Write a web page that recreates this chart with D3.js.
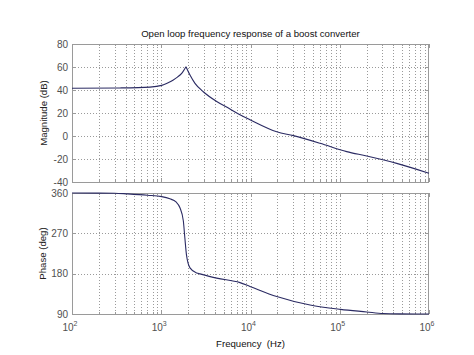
<!DOCTYPE html>
<html>
<head>
<meta charset="utf-8">
<script src="https://cdn.jsdelivr.net/npm/d3@7"></script>
<style>
  html, body { margin: 0; padding: 0; background: #fff; }
  text { font-family: "Liberation Sans", Arial, sans-serif; }
</style>
</head>
<body>
<svg id="chart" width="474" height="355"></svg>
<script>
// ---- data ----
const title = "Open loop frequency response of a boost converter";
const xLabel = "Frequency  (Hz)";
const magLabel = "Magnitude (dB)";
const phaseLabel = "Phase (deg)";

// magnitude: rising branch up to the resonance peak, then falling branch
const magFreqRise = [100, 345, 748, 1012, 1191, 1365, 1530, 1694, 1892];
const magDbRise   = [41.5, 41.8, 42.5, 44.0, 46.3, 48.7, 51.4, 54.5, 60.3];
const magFreqFall = [1892, 2099, 2388, 2958, 4180, 5890, 7620, 9860, 19680, 30200, 60100, 119700, 200400, 434500, 1000000];
const magDbFall   = [60.3, 53.0, 45.8, 38.5, 30.0, 23.5, 18.5, 14.2, 3.7, 0.3, -6.3, -13.6, -17.4, -23.8, -32.4];

const phFreq = [100, 300, 420, 700, 1012, 1250, 1463, 1620, 1767, 1838, 1917, 2099, 2497, 2716, 4180, 7620, 9860, 19680, 46500, 102000, 200400, 307000, 471000, 1000000];
const phDeg  = [360, 359.6, 358, 355, 352, 347, 340, 327, 298, 260, 222, 193, 181.5, 179.5, 170, 160, 151.5, 129, 110, 100.4, 94.6, 91, 90.3, 90];

const xTickExp = [2, 3, 4, 5, 6];
const magTicks = [-40, -20, 0, 20, 40, 60, 80];
const phTicks = [90, 180, 270, 360];

// ---- layout ----
const svg = d3.select("#chart");
const left = 72, right = 429;
const x = d3.scaleLog().domain([1e2, 1e6]).range([left, right]);
const yMag = d3.scaleLinear().domain([-40, 80]).range([182, 44]);
const yPh = d3.scaleLinear().domain([90, 360]).range([314, 193]);

const gridColor = "#9a9a9a";
const frameColor = "#9a9a9a";
const textColor = "#505050";
const lineColor = "#2b2b63";
const tickFont = 10;
const labelFont = 9.6;

// minor/major grid frequencies
const gridFreqs = [];
for (let e = 2; e < 6; e++) for (let m = 1; m <= 9; m++) gridFreqs.push(m * Math.pow(10, e));
gridFreqs.push(1e6);

function panel(yScale, ticks, label, labelX, labelY) {
  const [yb, yt] = yScale.range();
  const g = svg.append("g");
  g.append("rect").attr("x", left).attr("y", yt).attr("width", right - left).attr("height", yb - yt).attr("fill", "#fff");
  // vertical grid
  g.selectAll(".vg").data(gridFreqs.filter(f => f > 100 && f < 1e6)).enter().append("line")
    .attr("x1", d => Math.round(x(d)) + 0.5).attr("x2", d => Math.round(x(d)) + 0.5)
    .attr("y1", yt).attr("y2", yb)
    .attr("stroke", gridColor).attr("stroke-width", 1).attr("stroke-dasharray", "1,2");
  // horizontal grid
  g.selectAll(".hg").data(ticks.slice(1, -1)).enter().append("line")
    .attr("x1", left).attr("x2", right)
    .attr("y1", d => Math.round(yScale(d)) + 0.5).attr("y2", d => Math.round(yScale(d)) + 0.5)
    .attr("stroke", gridColor).attr("stroke-width", 1).attr("stroke-dasharray", "1,2");
  // ticks inward (x)
  g.selectAll(".xt").data(gridFreqs).enter().append("g").each(function(d) {
    const len = (Math.abs(Math.log10(d) - Math.round(Math.log10(d))) < 1e-9) ? 4 : 2;
    const xx = Math.round(x(d)) + 0.5;
    d3.select(this).append("line").attr("x1", xx).attr("x2", xx).attr("y1", yb).attr("y2", yb - len).attr("stroke", frameColor);
    d3.select(this).append("line").attr("x1", xx).attr("x2", xx).attr("y1", yt).attr("y2", yt + len).attr("stroke", frameColor);
  });
  // ticks inward (y)
  g.selectAll(".yt").data(ticks).enter().append("g").each(function(d) {
    const yy = Math.round(yScale(d)) + 0.5;
    d3.select(this).append("line").attr("x1", left).attr("x2", left + 4).attr("y1", yy).attr("y2", yy).attr("stroke", frameColor);
    d3.select(this).append("line").attr("x1", right).attr("x2", right - 4).attr("y1", yy).attr("y2", yy).attr("stroke", frameColor);
  });
  // frame
  g.append("rect").attr("x", left + 0.5).attr("y", Math.round(yt) + 0.5)
    .attr("width", right - left - 1).attr("height", Math.round(yb) - Math.round(yt))
    .attr("fill", "none").attr("stroke", frameColor).attr("stroke-width", 1);
  // y tick labels
  g.selectAll(".yl").data(ticks).enter().append("text")
    .attr("x", 68).attr("y", d => yScale(d)).attr("dy", "0.35em")
    .attr("text-anchor", "end").attr("font-size", tickFont).attr("fill", textColor)
    .text(d => d);
  // y label
  g.append("text")
    .attr("transform", `translate(${labelX},${labelY}) rotate(-90)`)
    .attr("text-anchor", "middle").attr("font-size", labelFont).attr("fill", "#222")
    .text(label);
  return g;
}

panel(yMag, magTicks, magLabel, 47, 113);
panel(yPh, phTicks, phaseLabel, 46, 253.5);

// x tick labels (10^n)
const xl = svg.selectAll(".xl").data(xTickExp).enter().append("text")
  .attr("x", d => x(Math.pow(10, d)) - 2).attr("y", 331)
  .attr("text-anchor", "middle").attr("font-size", tickFont).attr("fill", textColor);
xl.append("tspan").text("10");
xl.append("tspan").attr("dy", -5).attr("font-size", 7).text(d => d);

// title
svg.append("text").attr("x", (left + right) / 2).attr("y", 37)
  .attr("text-anchor", "middle").attr("font-size", labelFont).attr("fill", "#111")
  .text(title);

// x label
svg.append("text").attr("x", (left + right) / 2).attr("y", 347)
  .attr("text-anchor", "middle").attr("font-size", labelFont).attr("fill", "#111")
  .style("white-space", "pre")
  .text(xLabel);

// curves
const magLine = d3.line().x(d => x(d[0])).y(d => yMag(d[1])).curve(d3.curveMonotoneX);
[[magFreqRise, magDbRise], [magFreqFall, magDbFall]].forEach(([fs, vs]) => {
  svg.append("path").datum(fs.map((f, i) => [f, vs[i]]))
    .attr("d", magLine).attr("fill", "none").attr("stroke", lineColor).attr("stroke-width", 1.1);
});

const phLine = d3.line().x(d => x(d[0])).y(d => yPh(d[1])).curve(d3.curveMonotoneX);
svg.append("path").datum(phFreq.map((f, i) => [f, phDeg[i]]))
  .attr("d", phLine).attr("fill", "none").attr("stroke", lineColor).attr("stroke-width", 1.1);
</script>
</body>
</html>
